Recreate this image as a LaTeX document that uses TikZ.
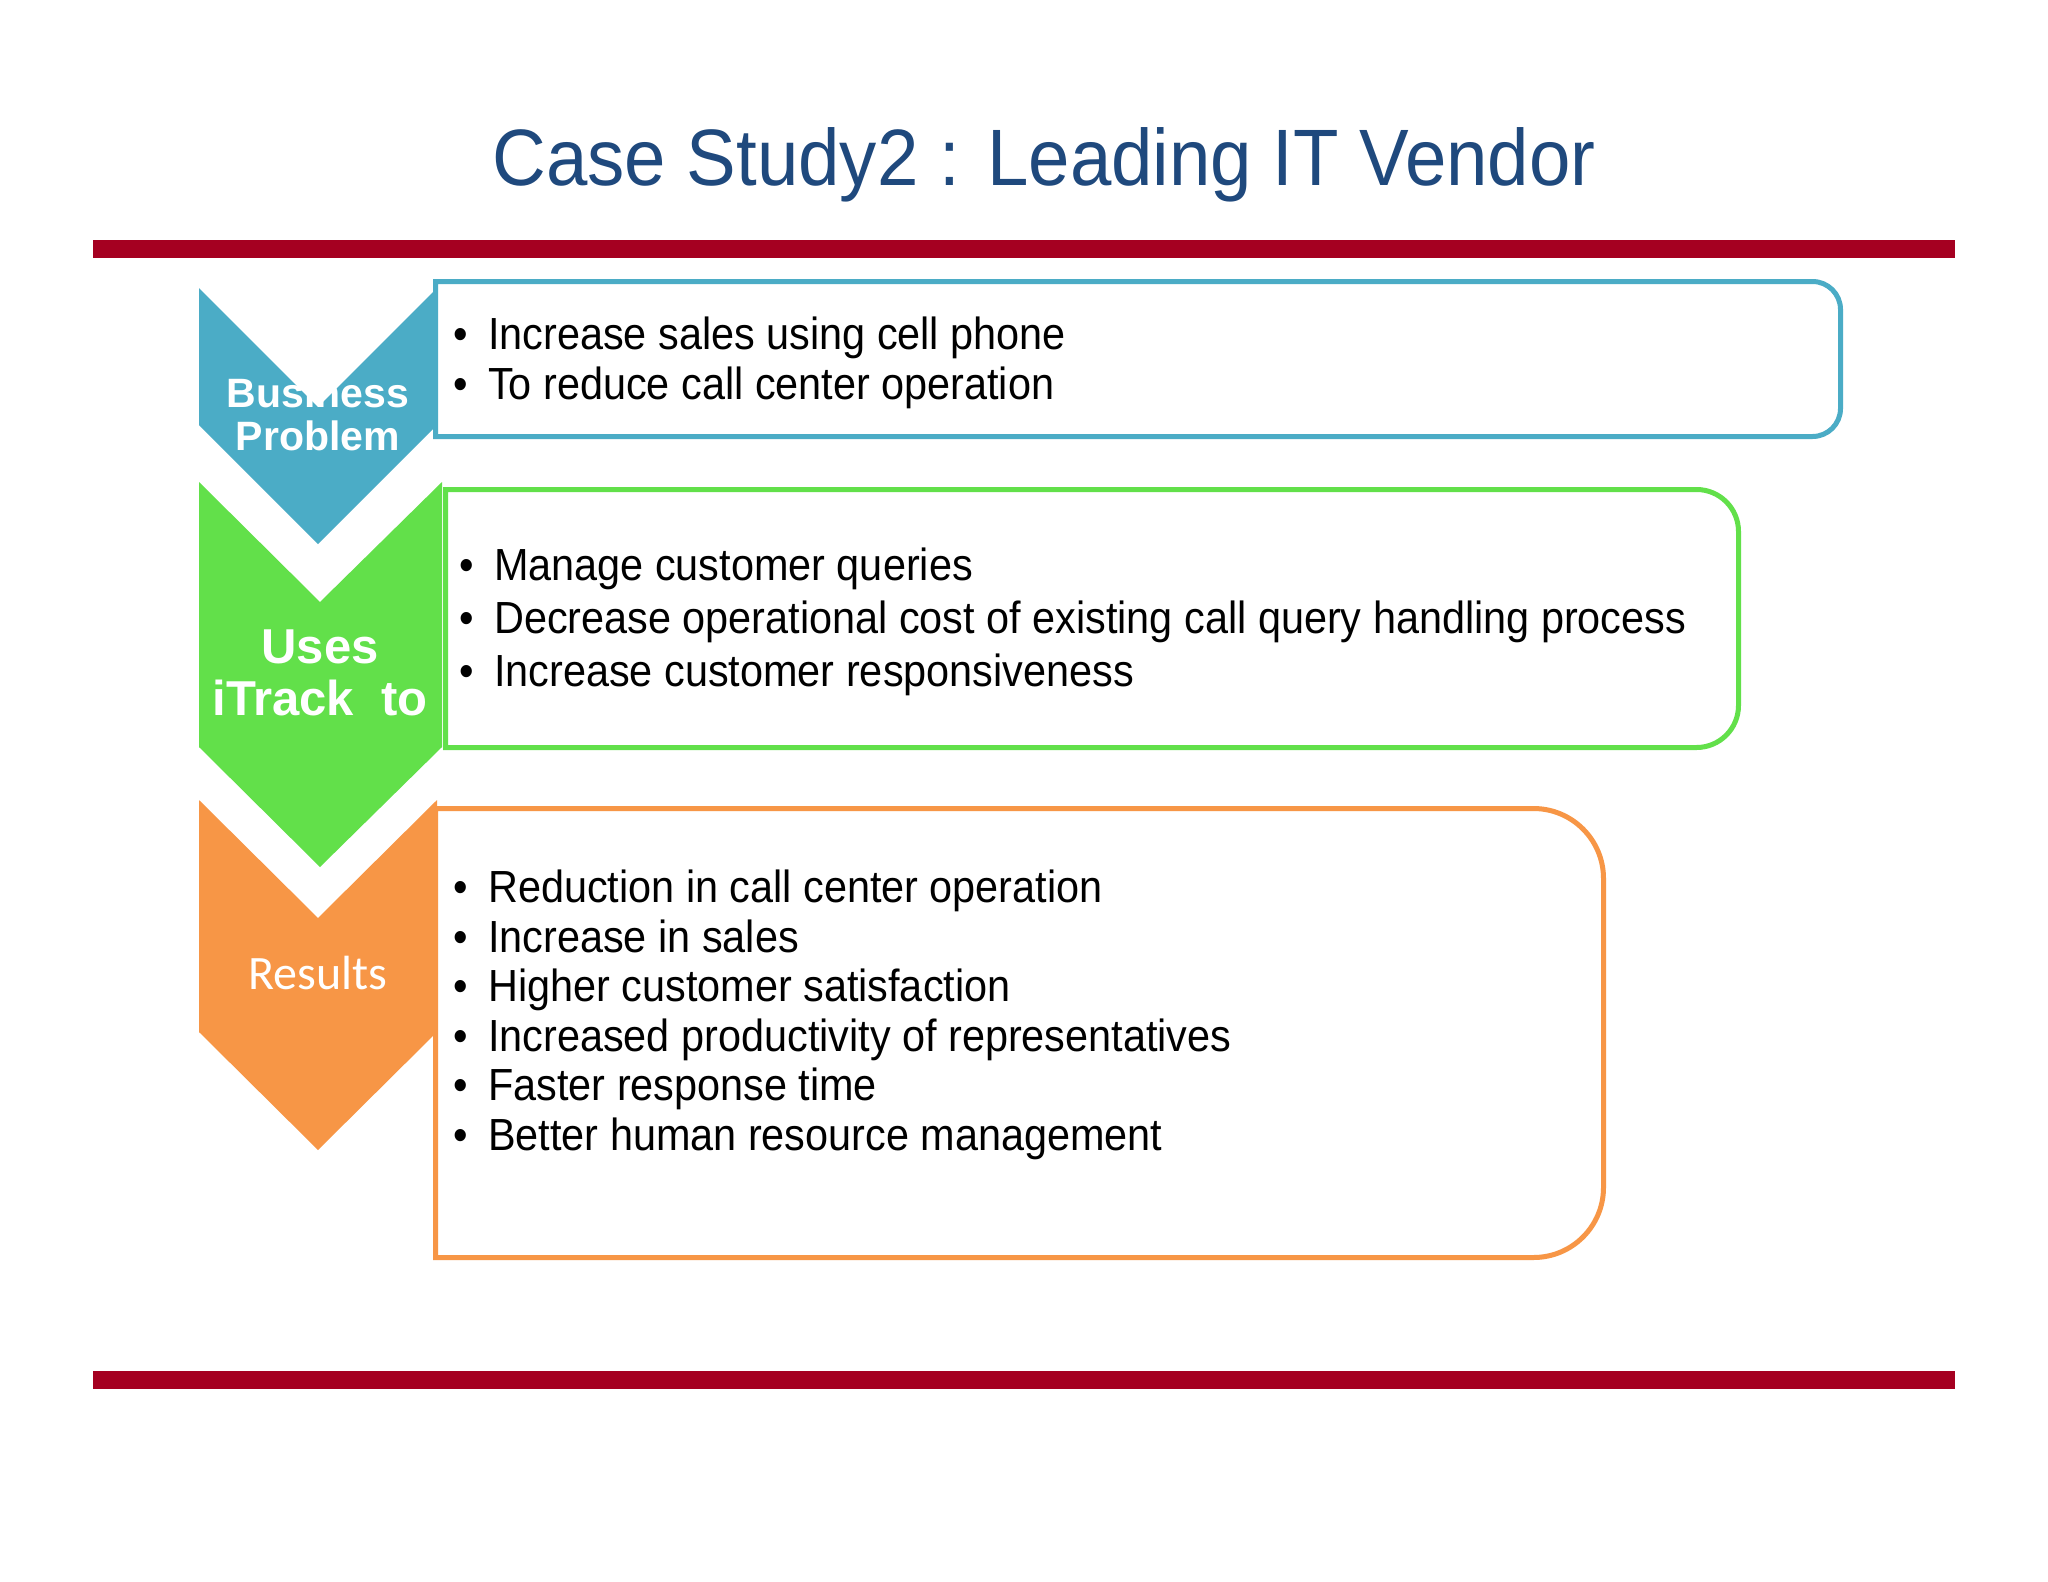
\documentclass[tikz,border=0pt]{standalone}
\usepackage{fontspec}
\setmainfont{Liberation Sans}
\newfontfamily\titlefont[FakeStretch=0.93]{Liberation Sans}
\newfontfamily\bodyfont[FakeStretch=0.92]{Liberation Sans}
\newfontfamily\resfont{Carlito}
\definecolor{redbar}{RGB}{165,0,33}
\definecolor{titleblue}{RGB}{31,73,125}
\definecolor{cblue}{RGB}{75,172,198}
\definecolor{cgreen}{RGB}{98,224,74}
\definecolor{corange}{RGB}{247,150,70}
\tikzset{
  bodytext/.style={anchor=base west, inner sep=0pt, font=\bodyfont\fontsize{45}{50}\selectfont, text=black},
  chevlabel/.style={align=center, text=white, inner sep=0pt},
  boxline/.style={line width=5pt, fill=white},
}
\newcommand{\bul}{\makebox[35pt][l]{\textbullet}}
\begin{document}
\begin{tikzpicture}[x=1pt,y=-1pt]
\useasboundingbox (0,0) rectangle (2048,1582);
\fill[white] (0,0) rectangle (2048,1582);
% red bars
\fill[redbar] (93,240) rectangle (1955,258);
\fill[redbar] (93,1371) rectangle (1955,1389);
% title
\node[anchor=base, inner sep=0pt, text=titleblue, font=\titlefont\fontsize{80}{90}\selectfont] (title) at (1044,185) {Case Study2 : Leading IT Vendor};
% chevrons
\fill[cblue] (199,288) -- (318,407) -- (437,288) -- (437,425) -- (318,544) -- (199,425) -- cycle;
\fill[cgreen] (199,482) -- (320,602) -- (442,482) -- (442,747) -- (320,867) -- (199,747) -- cycle;
\fill[corange] (199,800) -- (318,918) -- (437,800) -- (437,1032) -- (318,1150) -- (199,1032) -- cycle;
% boxes
\draw[boxline, draw=cblue] (435.5,436.5) -- (435.5,281.5) -- (1812.5,281.5)
  arc[start angle=-90, end angle=0, radius=28] -- (1840.5,408.5)
  arc[start angle=0, end angle=90, radius=28] -- cycle;
\draw[boxline, draw=cgreen] (445.5,747.5) -- (445.5,489.5) -- (1696.5,489.5)
  arc[start angle=-90, end angle=0, radius=42] -- (1738.5,705.5)
  arc[start angle=0, end angle=90, radius=42] -- cycle;
\draw[boxline, draw=corange] (435.5,1257.5) -- (435.5,808.5) -- (1533.5,808.5)
  arc[start angle=-90, end angle=0, radius=70] -- (1603.5,1187.5)
  arc[start angle=0, end angle=90, radius=70] -- cycle;
% chevron labels
\node[chevlabel, font=\bfseries\fontsize{41}{43}\selectfont] (bp) at (318,414) {Business\\Problem};
\node[chevlabel, font=\bfseries\fontsize{49}{52}\selectfont] (uses) at (320,673) {Uses\\iTrack\ \ to};
\node[chevlabel, font=\resfont\fontsize{48}{50}\selectfont] (res) at (318,973) {Results};
% box 1 text
\node[bodytext] (b1a) at (453,349) {\bul Increase sales using cell phone};
\node[bodytext] (b1b) at (453,399) {\bul To reduce call center operation};
% box 2 text
\node[bodytext] (b2a) at (459,580) {\bul Manage customer queries};
\node[bodytext] (b2b) at (459,633) {\bul Decrease operational cost of existing call query handling process};
\node[bodytext] (b2c) at (459,686) {\bul Increase customer responsiveness};
% box 3 text
\node[bodytext] (b3a) at (453,902) {\bul Reduction in call center operation};
\node[bodytext] (b3b) at (453,952) {\bul Increase in sales};
\node[bodytext] (b3c) at (453,1001) {\bul Higher customer satisfaction};
\node[bodytext] (b3d) at (453,1051) {\bul Increased productivity of representatives};
\node[bodytext] (b3e) at (453,1100) {\bul Faster response time};
\node[bodytext] (b3f) at (453,1150) {\bul Better human resource management};
\end{tikzpicture}
\end{document}
